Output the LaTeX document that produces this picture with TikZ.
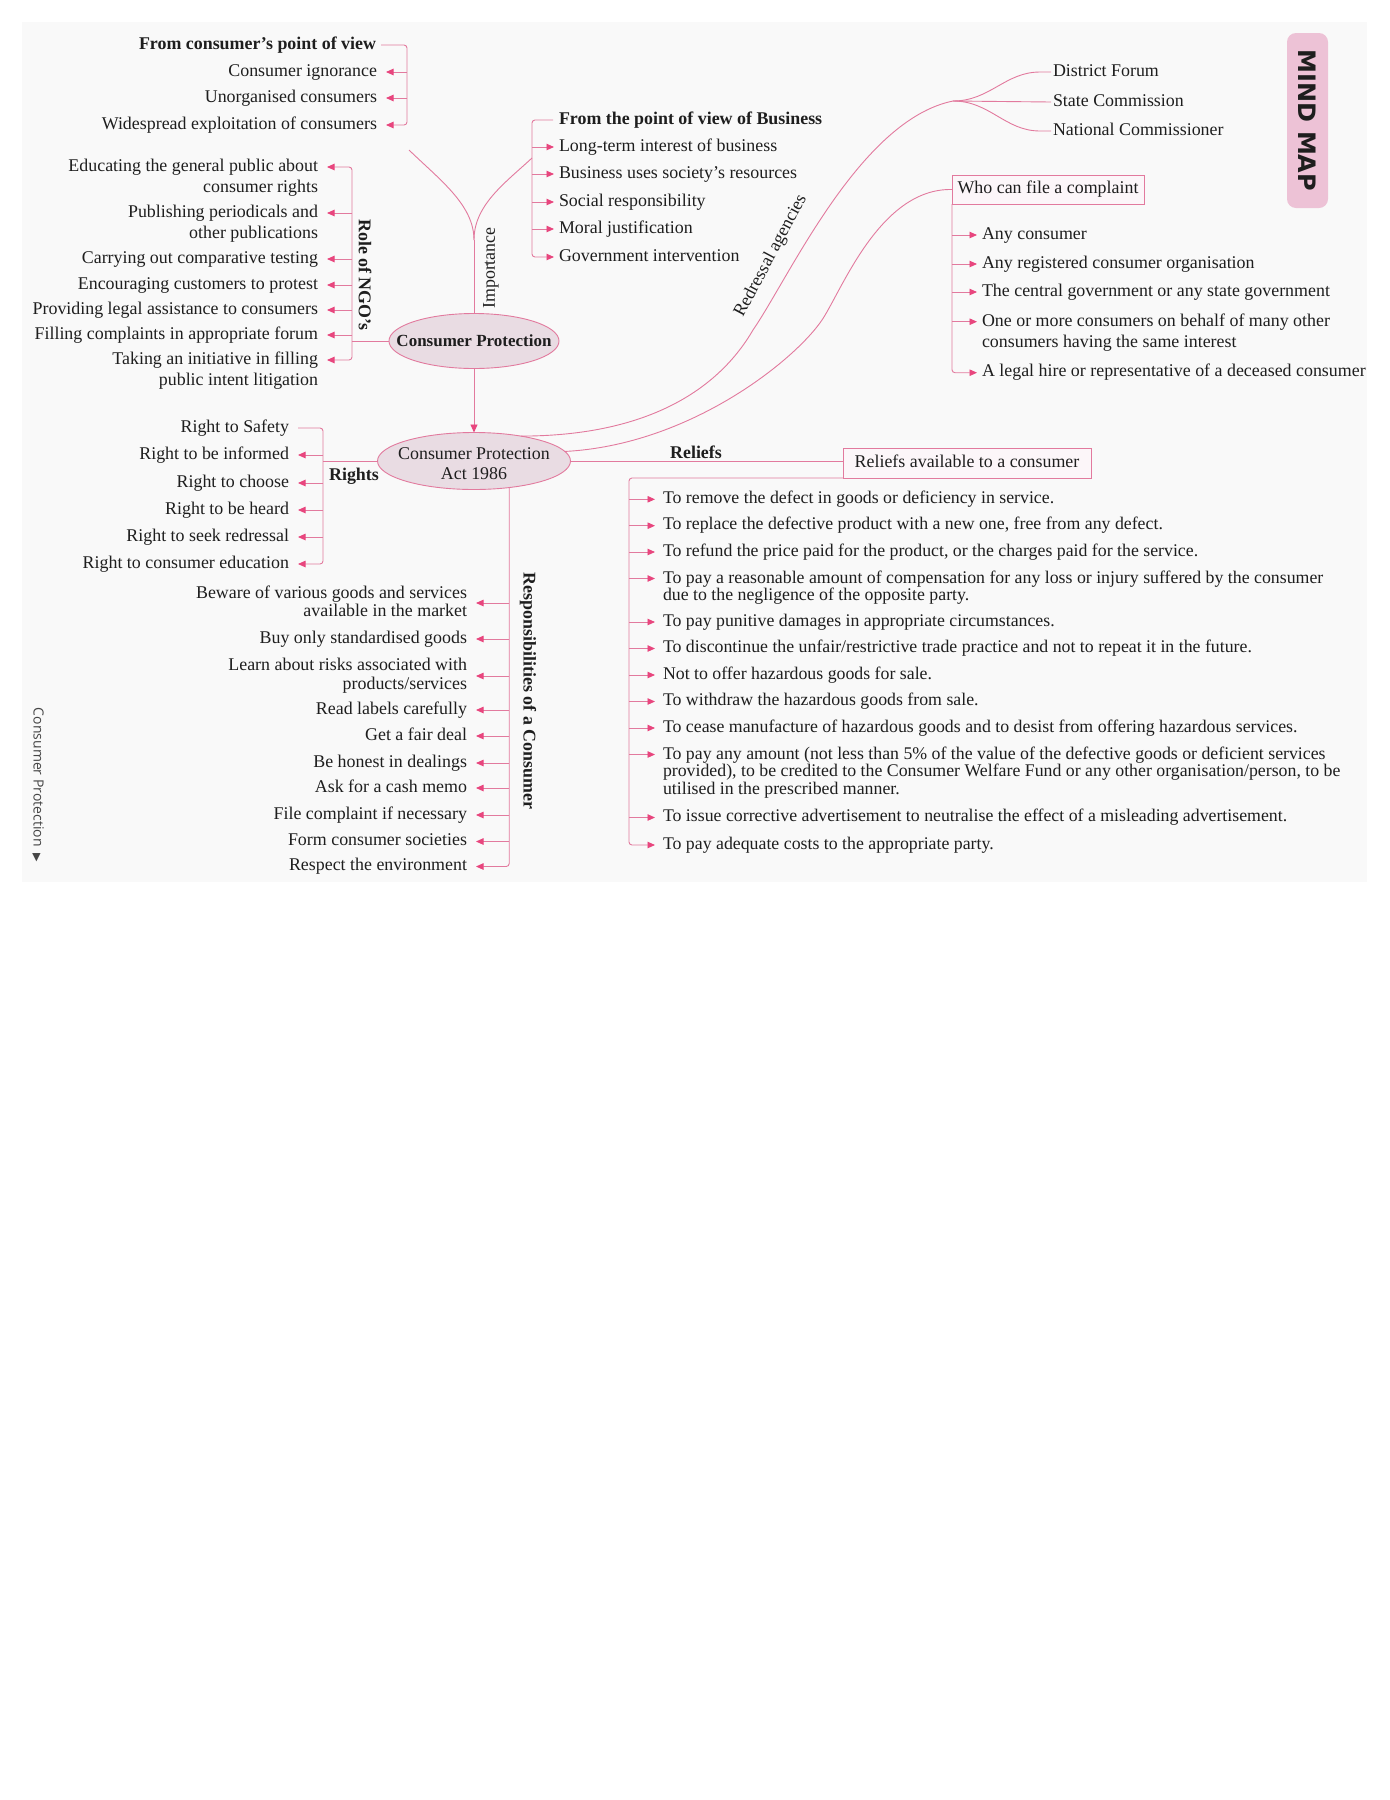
\documentclass[tikz,border=0pt]{standalone}
\usepackage{fontspec}
\setmainfont{Liberation Serif}
\newfontfamily\opensans{Open Sans}
\newfontfamily\dejavu{DejaVu Sans}
\usetikzlibrary{arrows.meta,shapes.geometric,calc}
\definecolor{lpink}{RGB}{226,122,158}
\definecolor{apink}{RGB}{232,70,126}
\definecolor{ellfill}{RGB}{233,220,227}
\definecolor{boxfill}{RGB}{252,246,249}
\definecolor{mmfill}{RGB}{237,194,214}
\definecolor{txt}{RGB}{30,30,30}
\definecolor{darkg}{RGB}{70,70,70}
\definecolor{bgg}{RGB}{249,249,249}
\newcommand{\msz}{\fontsize{17.9}{21.3}\selectfont}
\newcommand{\rsz}{\fontsize{17.8}{17.6}\selectfont}
\begin{document}
\begin{tikzpicture}[x=1pt,y=-1pt,
  every node/.style={inner sep=0pt,outer sep=0pt,text=txt,font=\msz},
  ln/.style={draw=lpink,line width=0.9pt},
  tip/.style={-{Triangle[length=7.5pt,width=6.5pt,color=apink]}},
  arrL/.style={ln,tip,shorten >=9pt},
  arrR/.style={ln,tip,shorten >=5pt},
  arrRel/.style={ln,tip,shorten >=8pt},
  itR/.style={anchor=east,text height=12pt,text depth=4pt},
  itL/.style={anchor=west,text height=12pt,text depth=4pt},
  mlR/.style={anchor=north east,align=right},
  mlL/.style={anchor=north west,align=left},
  rel/.style={font=\rsz},
  hd/.style={font=\msz\bfseries},
  ell/.style={ellipse,draw=lpink,line width=0.9pt,fill=ellfill},
  lbox/.style={draw=lpink,line width=0.9pt,fill=boxfill,text height=12pt,text depth=4pt}
]
\useasboundingbox (0,0) rectangle (1390,1800);
\fill[bgg] (22,22) rectangle (1367,882);

% ---------- consumer's point of view ----------
\node[itR,hd] (a0) at (376,45) {From consumer's point of view};
\node[itR] (a1) at (377,72) {Consumer ignorance};
\node[itR] (a2) at (377,98) {Unorganised consumers};
\node[itR] (a3) at (377,125) {Widespread exploitation of consumers};
\coordinate (aBot) at (407,125);
\draw[arrL,rounded corners=3pt] ([xshift=5pt]a0.east) -| (aBot) -- (a3.east);
\draw[arrL] (aBot |- a1.east) -- (a1.east);
\draw[arrL] (aBot |- a2.east) -- (a2.east);

% ---------- Consumer Protection + Importance ----------
\node[ell,minimum width=170pt,minimum height=55pt,font=\fontsize{17}{20}\selectfont\bfseries] (cp) at (474,341) {\makebox[0pt]{Consumer Protection}};
\coordinate (imp) at (474,240);
\coordinate (impL) at (409,150);
\coordinate (bImp) at (532,158);
\draw[ln] (cp.north) -- (imp);
\draw[ln] (impL) .. controls (440,180) and (474,205) .. (imp);
\draw[ln] (imp) .. controls (474,205) and (505,183) .. (bImp);
\node[rotate=90] (impT) at (491,268) {Importance};

% ---------- Business ----------
\node[itL,hd] (b0) at (559,120) {From the point of view of Business};
\node[itL] (b1) at (559,147) {Long-term interest of business};
\node[itL] (b2) at (559,174) {Business uses society's resources};
\node[itL] (b3) at (559,202) {Social responsibility};
\node[itL] (b4) at (559,229) {Moral justification};
\node[itL] (b5) at (559,257) {Government intervention};
\coordinate (bBot) at (532,257);
\draw[arrR,rounded corners=3pt] ([xshift=-6pt]b0.west) -| (bBot) -- (b5.west);
\foreach \i in {1,...,4} \draw[arrR] (bBot |- b\i.west) -- (b\i.west);

% ---------- Role of NGO's ----------
\node[mlR] (n1) at (318,159) {Educating the general public about\\consumer rights};
\node[mlR] (n2) at (318,205) {Publishing periodicals and\\other publications};
\node[itR] (n3) at (318,259) {Carrying out comparative testing};
\node[itR] (n4) at (318,285) {Encouraging customers to protest};
\node[itR] (n5) at (318,310) {Providing legal assistance to consumers};
\node[itR] (n6) at (318,335) {Filling complaints in appropriate forum};
\node[mlR] (n7) at (318,352) {Taking an initiative in filling\\public intent litigation};
\coordinate (n1a) at ([yshift=-8pt]n1.north east);
\coordinate (n2a) at ([yshift=-8pt]n2.north east);
\coordinate (n7a) at ([yshift=-8pt]n7.north east);
\coordinate (ngoM) at (352,341);
\draw[ln] (ngoM) -- (cp.west);
\draw[arrL,rounded corners=3pt] (ngoM) |- (n1a);
\draw[arrL,rounded corners=3pt] (ngoM) |- (n7a);
\draw[arrL] (ngoM |- n2a) -- (n2a);
\foreach \i in {3,...,6} \draw[arrL] (ngoM |- n\i.east) -- (n\i.east);
\node[rotate=-90,hd] (ngoT) at (365,275) {Role of NGO's};

% ---------- Act ----------
\node[ell,minimum width=193pt,minimum height=57pt] (act) at (474,461) {};
\node[align=center] (actT) at (474,464) {Consumer Protection\\[-1.3pt]Act 1986};
\draw[ln,-{Triangle[length=8pt,width=7pt,color=apink]}] (cp.south) -- (act.north);

% ---------- Rights ----------
\node[itR] (r0) at (289,428) {Right to Safety};
\node[itR] (r1) at (289,455) {Right to be informed};
\node[itR] (r2) at (289,483) {Right to choose};
\node[itR] (r3) at (289,510) {Right to be heard};
\node[itR] (r4) at (289,537) {Right to seek redressal};
\node[itR] (r5) at (289,564) {Right to consumer education};
\coordinate (rBot) at (323,564);
\draw[arrL,rounded corners=3pt] ([xshift=9pt]r0.east) -| (rBot) -- (r5.east);
\foreach \i in {1,...,4} \draw[arrL] (rBot |- r\i.east) -- (r\i.east);
\draw[ln] (rBot |- act.west) -- (act.west);
\node[hd] (rT) at (354,476) {Rights};

% ---------- Responsibilities ----------
\coordinate (rsp) at (act.-37);
\node[mlR] (p1) at (467,585.5) {Beware of various goods and services\\[-2.8pt]available in the market};
\node[itR] (p2) at (467,639) {Buy only standardised goods};
\node[mlR] (p3) at (467,657.7) {Learn about risks associated with\\[-2pt]products/services};
\node[itR] (p4) at (467,710) {Read labels carefully};
\node[itR] (p5) at (467,736) {Get a fair deal};
\node[itR] (p6) at (467,763) {Be honest in dealings};
\node[itR] (p7) at (467,788) {Ask for a cash memo};
\node[itR] (p8) at (467,815) {File complaint if necessary};
\node[itR] (p9) at (467,841.5) {Form consumer societies};
\node[itR] (p10) at (467,866.5) {Respect the environment};
\coordinate (p1a) at ([yshift=-17.5pt]p1.north east);
\coordinate (p3a) at ([yshift=-18.3pt]p3.north east);
\draw[arrL,rounded corners=3pt] (rsp) |- (p10.east);
\draw[arrL] (rsp |- p1a) -- (p1a);
\draw[arrL] (rsp |- p3a) -- (p3a);
\foreach \i in {2,4,5,6,7,8,9} \draw[arrL] (rsp |- p\i.east) -- (p\i.east);
\node[rotate=-90,hd] (rspT) at (528,691) {Responsibilities of a Consumer};

% ---------- Redressal agencies ----------
\coordinate (rm) at (753,330);
\coordinate (rj) at (953,101);
\draw[ln] (act.28) .. controls (640,436) and (715,395) .. (rm) .. controls (790,276) and (860,120) .. (rj);
\node[itL] (d1) at (1053,72) {District Forum};
\node[itL] (d2) at (1053,102) {State Commission};
\node[itL] (d3) at (1053,131) {National Commissioner};
\draw[ln] (rj) .. controls (990,101) and (1005,72) .. (1040,72) -- ([xshift=-2pt]d1.west);
\draw[ln] (rj) -- ([xshift=-2pt]d2.west);
\draw[ln] (rj) .. controls (990,101) and (1005,131) .. (1040,131) -- ([xshift=-2pt]d3.west);
\node[rotate=62] (raT) at (771,256) {Redressal agencies};

% ---------- Who can file ----------
\node[lbox,minimum width=192pt,minimum height=29pt] (wb) at (1048,189.5) {Who can file a complaint};
\coordinate (wm) at (822,320);
\draw[ln] (act.6) .. controls (690,445) and (795,360) .. (wm) .. controls (842,290) and (880,188) .. (wb.west);
\node[itL] (w1) at (982,235) {Any consumer};
\node[itL] (w2) at (982,264) {Any registered consumer organisation};
\node[itL] (w3) at (982,292) {The central government or any state government};
\node[mlL] (w4) at (982,313.7) {One or more consumers on behalf of many other\\consumers having the same interest};
\node[itL] (w5) at (982,372.7) {A legal hire or representative of a deceased consumer};
\coordinate (w4a) at ([yshift=-8pt]w4.north west);
\draw[arrR,rounded corners=3pt] (wb.south west) |- (w5.west);
\draw[arrR] (wb.south west |- w4a) -- (w4a);
\foreach \i in {1,2,3} \draw[arrR] (wb.south west |- w\i.west) -- (w\i.west);

% ---------- Reliefs ----------
\node[lbox,minimum width=248pt,minimum height=30pt] (rb) at (967,463) {Reliefs available to a consumer};
\draw[ln] (act.east) -- (act.east -| rb.west);
\node[hd] (relT) at (696,452) {Reliefs};
\coordinate (rX) at (629,478);
\node[itL,rel] (R1) at (663,499.3) {To remove the defect in goods or deficiency in service.};
\node[itL,rel] (R2) at (663,525.7) {To replace the defective product with a new one, free from any defect.};
\node[itL,rel] (R3) at (663,552) {To refund the price paid for the product, or the charges paid for the service.};
\node[mlL,rel] (R4) at (663,570.5) {To pay a reasonable amount of compensation for any loss or injury suffered by the consumer\\due to the negligence of the opposite party.};
\node[itL,rel] (R5) at (663,622) {To pay punitive damages in appropriate circumstances.};
\node[itL,rel] (R6) at (663,648.5) {To discontinue the unfair/restrictive trade practice and not to repeat it in the future.};
\node[itL,rel] (R7) at (663,675) {Not to offer hazardous goods for sale.};
\node[itL,rel] (R8) at (663,701.5) {To withdraw the hazardous goods from sale.};
\node[itL,rel] (R9) at (663,728) {To cease manufacture of hazardous goods and to desist from offering hazardous services.};
\node[mlL,rel] (R10) at (663,746.5) {To pay any amount (not less than 5\% of the value of the defective goods or deficient services\\provided), to be credited to the Consumer Welfare Fund or any other organisation/person, to be\\utilised in the prescribed manner.};
\node[itL,rel] (R11) at (663,817.5) {To issue corrective advertisement to neutralise the effect of a misleading advertisement.};
\node[itL,rel] (R12) at (663,845) {To pay adequate costs to the appropriate party.};
\coordinate (R4a) at ([yshift=-8pt]R4.north west);
\coordinate (R10a) at ([yshift=-8pt]R10.north west);
\draw[arrRel,rounded corners=3pt] (rb.south west) -- (rX) |- (R12.west);
\draw[arrRel] (rX |- R4a) -- (R4a);
\draw[arrRel] (rX |- R10a) -- (R10a);
\foreach \i in {1,2,3,5,6,7,8,9,11} \draw[arrRel] (rX |- R\i.west) -- (R\i.west);

% ---------- MIND MAP tag ----------
\node[fill=mmfill,rounded corners=9pt,minimum width=175pt,minimum height=41pt,rotate=-90,
      font=\dejavu\bfseries\fontsize{24}{26}\selectfont] (mm) at (1307.5,120.5) {MIND MAP};

% ---------- footer ----------
\node[rotate=-90,text=darkg,font=\opensans\fontsize{14}{16}\selectfont] (foot) at (38,785)
  {Consumer Protection\hspace{7pt}{\dejavu\fontsize{11}{11}\selectfont ▶}};
\end{tikzpicture}
\end{document}
